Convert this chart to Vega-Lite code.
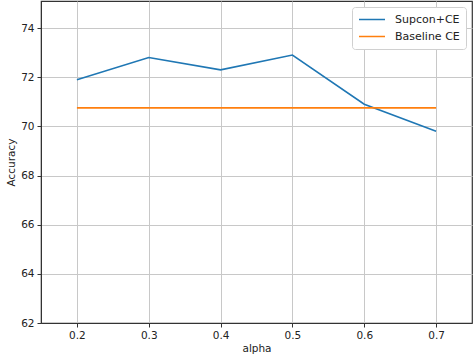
{
  "$schema": "https://vega.github.io/schema/vega-lite/v6.json",
  "width": 431,
  "height": 322,
  "autosize": {"type": "none"},
  "padding": {"left": 41, "top": 1, "right": 2, "bottom": 38},
  "background": "white",
  "config": {
    "font": "DejaVu Sans",
    "view": {"stroke": "#333", "strokeWidth": 1.2},
    "axis": {
      "labelFont": "DejaVu Sans",
      "titleFont": "DejaVu Sans",
      "labelFontSize": 10.5,
      "titleFontSize": 10.5,
      "labelColor": "#222",
      "titleColor": "#222",
      "titleFontWeight": "normal",
      "domainColor": "#333",
      "tickColor": "#333",
      "tickSize": 4,
      "gridColor": "#c8c8c8",
      "gridWidth": 1,
      "labelPadding": 3
    }
  },
  "data": {
    "values": [
      {"alpha": 0.2, "accuracy": 71.9, "series": "Supcon+CE"},
      {"alpha": 0.3, "accuracy": 72.8, "series": "Supcon+CE"},
      {"alpha": 0.4, "accuracy": 72.3, "series": "Supcon+CE"},
      {"alpha": 0.5, "accuracy": 72.9, "series": "Supcon+CE"},
      {"alpha": 0.6, "accuracy": 70.9, "series": "Supcon+CE"},
      {"alpha": 0.7, "accuracy": 69.8, "series": "Supcon+CE"},
      {"alpha": 0.2, "accuracy": 70.75, "series": "Baseline CE"},
      {"alpha": 0.7, "accuracy": 70.75, "series": "Baseline CE"}
    ]
  },
  "mark": {"type": "line", "strokeWidth": 1.6, "clip": true},
  "encoding": {
    "x": {
      "field": "alpha",
      "type": "quantitative",
      "scale": {"domain": [0.15, 0.75], "nice": false, "zero": false},
      "axis": {"values": [0.2, 0.3, 0.4, 0.5, 0.6, 0.7], "format": ".1f", "title": "alpha", "titlePadding": 3}
    },
    "y": {
      "field": "accuracy",
      "type": "quantitative",
      "scale": {"domain": [62, 75.1], "nice": false, "zero": false},
      "axis": {"values": [62, 64, 66, 68, 70, 72, 74], "title": "Accuracy", "titlePadding": 4}
    },
    "color": {
      "field": "series",
      "type": "nominal",
      "scale": {"domain": ["Supcon+CE", "Baseline CE"], "range": ["#1f77b4", "#ff7f0e"]},
      "legend": {
        "title": null,
        "orient": "top-right",
        "offset": 6,
        "symbolType": "stroke",
        "symbolSize": 676,
        "symbolStrokeWidth": 1.6,
        "clipHeight": 13,
        "labelFontSize": 11,
        "labelFont": "DejaVu Sans",
        "labelColor": "#222",
        "fillColor": "white",
        "strokeColor": "#d0d0d0",
        "cornerRadius": 3,
        "padding": 6,
        "rowPadding": 4,
        "symbolOffset": 0,
        "labelOffset": 9,
        "labelLimit": 200
      }
    }
  }
}
